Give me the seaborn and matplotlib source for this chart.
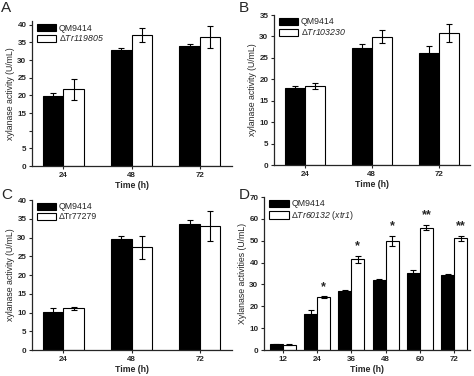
import pandas as pd
import matplotlib
matplotlib.use("Agg")
import matplotlib.pyplot as plt
import seaborn as sns

# === Data ===
times_abc = ["24", "48", "72"]
times_d = ["12", "24", "36", "48", "60", "72"]

a_qm = [19.8, 32.8, 33.9]
a_qm_err = [0.9, 0.6, 0.6]
a_mut = [21.7, 37.1, 36.5]
a_mut_err = [2.9, 2.0, 3.1]

b_qm = [17.9, 27.3, 26.1]
b_qm_err = [0.6, 1.0, 1.6]
b_mut = [18.4, 29.9, 30.9]
b_mut_err = [0.7, 1.5, 2.1]

c_qm = [10.1, 29.5, 33.5]
c_qm_err = [1.0, 1.0, 1.1]
c_mut = [11.1, 27.4, 33.1]
c_mut_err = [0.3, 3.0, 3.9]

d_qm = [2.6, 16.3, 27.2, 32.0, 35.2, 34.3]
d_qm_err = [0.2, 1.8, 0.3, 0.7, 1.2, 0.3]
d_mut = [2.5, 24.3, 41.5, 49.9, 56.0, 51.2]
d_mut_err = [0.1, 0.3, 1.7, 2.4, 1.3, 1.1]
d_stars = ["", "*", "*", "*", "**", "**"]

sns.set_style("ticks")
plt.rcParams["font.family"] = ["Liberation Sans", "DejaVu Sans"]
# mathtext "rm" is pointed at the italic face so gene names (digits too) come out italic
plt.rcParams["mathtext.fontset"] = "custom"
plt.rcParams["mathtext.rm"] = "Liberation Sans:italic"
plt.rcParams["mathtext.it"] = "Liberation Sans:italic"


def panel(ax, times, qm, qm_err, mut, mut_err, mut_label, ylim, yticks,
          ylabel, width, xlim, ytick_labels=None):
    df = pd.DataFrame({
        "Time": times * 2,
        "value": qm + mut,
        "strain": ["QM9414"] * len(times) + ["mut"] * len(times),
    })
    sns.barplot(data=df, x="Time", y="value", hue="strain",
                hue_order=["QM9414", "mut"],
                palette={"QM9414": "black", "mut": "white"},
                edgecolor="black", linewidth=0.8, errorbar=None,
                width=width, gap=0, ax=ax)
    tops = []
    for cont, err in zip(ax.containers, [qm_err, mut_err]):
        xs = [b.get_x() + b.get_width() / 2 for b in cont]
        ys = [b.get_height() for b in cont]
        ax.errorbar(xs, ys, yerr=err, fmt="none", ecolor="black",
                    elinewidth=0.8, capsize=2, capthick=0.8)
        tops.append([(x, y + e) for x, y, e in zip(xs, ys, err)])
    ax.set_ylim(*ylim)
    ax.set_xlim(*xlim)
    ax.set_yticks(yticks)
    if ytick_labels is not None:
        ax.set_yticklabels(ytick_labels)
    ax.set_ylabel(ylabel, fontsize=6.3, labelpad=2)
    ax.set_xlabel("Time (h)", fontsize=6.3, fontweight="bold", labelpad=2)
    ax.tick_params(axis="both", labelsize=5.8, length=2.5, width=0.8, pad=1.5)
    for lab in ax.get_xticklabels() + ax.get_yticklabels():
        lab.set_fontweight("bold")
    for s in ["left", "bottom"]:
        ax.spines[s].set_linewidth(0.9)
    sns.despine(ax=ax)
    handles, _ = ax.get_legend_handles_labels()
    ax.legend(handles, ["QM9414", mut_label], loc="upper left",
              bbox_to_anchor=(0.0, 1.02), frameon=False, fontsize=6.3,
              handlelength=2.2, handleheight=0.9, handletextpad=0.3,
              labelspacing=0.1, borderaxespad=0.2)
    return tops


fig = plt.figure(figsize=(4.74, 3.76), dpi=100)

axA = fig.add_axes([0.0675, 0.5585, 0.4215, 0.385])
panel(axA, times_abc, a_qm, a_qm_err, a_mut, a_mut_err,
      r"Δ$\mathrm{Tr119805}$", (0, 41), [0, 5, 10, 15, 20, 25, 30, 35, 40],
      "xylanase activity (U/mL)", 0.6, (-0.46, 2.47),
      ["0", "5", "", "15", "20", "25", "30", "35", "40"])

axB = fig.add_axes([0.578, 0.561, 0.414, 0.399])
panel(axB, times_abc, b_qm, b_qm_err, b_mut, b_mut_err,
      r"Δ$\mathrm{Tr103230}$", (0, 35), [0, 5, 10, 15, 20, 25, 30, 35],
      "xylanase activity (U/mL)", 0.6, (-0.46, 2.47))

axC = fig.add_axes([0.0675, 0.069, 0.4215, 0.399])
panel(axC, times_abc, c_qm, c_qm_err, c_mut, c_mut_err,
      "ΔTr77279", (0, 40), [0, 5, 10, 15, 20, 25, 30, 35, 40],
      "xylanase activity (U/mL)", 0.6, (-0.46, 2.47))

axD = fig.add_axes([0.557, 0.069, 0.435, 0.407])
tops = panel(axD, times_d, d_qm, d_qm_err, d_mut, d_mut_err,
             r"Δ$\mathrm{Tr60132}$ ($\mathrm{xtr1}$)", (0, 70),
             [0, 10, 20, 30, 40, 50, 60, 70],
             "Xylanase activities (U/mL)", 0.76, (-0.55, 5.47))
for (x, y), star in zip(tops[1], d_stars):
    axD.text(x, y + 1.5, star, ha="center", va="bottom", fontsize=9,
             fontweight="bold")

for label, (x, y) in zip("ABCD", [(0.003, 0.998), (0.503, 0.998),
                                  (0.003, 0.5), (0.503, 0.5)]):
    fig.text(x, y, label, fontsize=11, ha="left", va="top")

fig.savefig("out.png", dpi=100)
